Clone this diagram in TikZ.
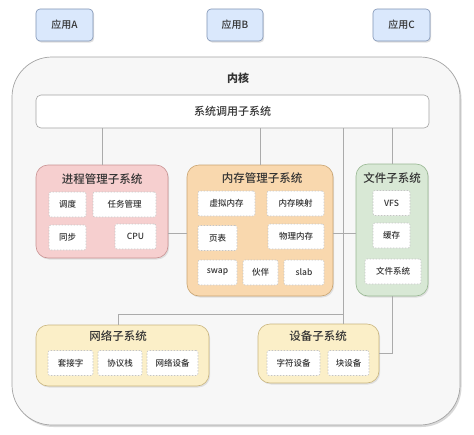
\documentclass[tikz,border=0pt]{standalone}
\usepackage{fontspec}
\setmainfont{Noto Sans CJK SC}
\newfontfamily\medfont{Noto Sans CJK SC Medium}
\usepackage{tikz}
\usetikzlibrary{calc}
\usetikzlibrary{shadows}

\definecolor{appfill}{HTML}{DAE8FC}
\definecolor{appline}{HTML}{7F93B5}
\definecolor{kernfill}{HTML}{F7F7F7}
\definecolor{kernline}{HTML}{A3A3A3}
\definecolor{procfill}{HTML}{F6CFCF}
\definecolor{procline}{HTML}{C99393}
\definecolor{memfill}{HTML}{F9D8AE}
\definecolor{memline}{HTML}{C9A470}
\definecolor{filefill}{HTML}{D8E8D5}
\definecolor{fileline}{HTML}{97B791}
\definecolor{devfill}{HTML}{FBEFC8}
\definecolor{devline}{HTML}{C9B57E}
\definecolor{itemline}{HTML}{C4C4C4}
\definecolor{linkgray}{HTML}{ABABAB}
\definecolor{txt}{HTML}{333333}

\tikzset{
  app/.style={draw=appline, fill=appfill, rounded corners=4pt, line width=0.6pt,
    inner sep=0pt, minimum height=32pt, text=txt, font=\medfont\fontsize{10}{12}\selectfont,
    drop shadow={opacity=0.25, shadow xshift=1.2pt, shadow yshift=-1.5pt}},
  grp/.style={rounded corners=12pt, line width=0.6pt, inner sep=0pt,
    drop shadow={opacity=0.2, shadow xshift=1.2pt, shadow yshift=-1.5pt}},
  itembox/.style={draw=itemline, fill=white, dash pattern=on 1.5pt off 1.5pt,
    rounded corners=2pt, line width=0.6pt, inner sep=0pt, minimum height=25pt,
    text=txt, font=\medfont\fontsize{8.5}{10}\selectfont},
  grptitle/.style={text=txt, font=\medfont\fontsize{11.5}{13}\selectfont},
  link/.style={draw=linkgray, line width=0.6pt}
}

\begin{document}
\begin{tikzpicture}[x=1pt, y=-1pt]
\fill[white] (0,0) rectangle (474,434);
\useasboundingbox (0,0) rectangle (474,434);

\node[app, minimum width=57pt] (appA) at (64.5,25) {应用A};
\node[app, minimum width=56pt] (appB) at (235,25) {应用B};
\node[app, minimum width=57pt] (appC) at (401.5,25) {应用C};

\node[draw=kernline, fill=kernfill, rounded corners=40pt, line width=0.7pt, inner sep=0pt,
  minimum width=448pt, minimum height=368pt,
  drop shadow={opacity=0.3, shadow xshift=1.5pt, shadow yshift=-2pt}] (kern) at (236,241) {};
\node[text=txt, font=\fontsize{11}{13}\selectfont\bfseries] (kernt) at (238,78) {内核};

\node[draw=kernline, fill=white, rounded corners=5pt, line width=0.6pt, inner sep=0pt,
  minimum width=393pt, minimum height=33pt, text=txt, font=\medfont\fontsize{11}{13}\selectfont] (sys) at (232.5,111.5) {系统调用子系统};

\node[grp, draw=procline, fill=procfill, minimum width=132pt, minimum height=93pt] (proc) at (102,211.5) {};
\node[grp, draw=memline, fill=memfill, minimum width=146pt, minimum height=131pt] (mem) at (260,230.5) {};
\node[grp, draw=fileline, fill=filefill, minimum width=72pt, minimum height=132pt] (file) at (392,230) {};
\node[grp, draw=devline, fill=devfill, minimum width=173pt, minimum height=61pt] (net) at (122.5,355.5) {};
\node[grp, draw=devline, fill=devfill, minimum width=121pt, minimum height=59pt] (dev) at (318.5,353.5) {};

\node[grptitle] (proct) at (102,179) {进程管理子系统};
\node[grptitle] (memt) at (262,178) {内存管理子系统};
\node[grptitle] (filet) at (392,178) {文件子系统};
\node[grptitle] (nett) at (118,336) {网络子系统};
\node[grptitle] (devt) at (318,336) {设备子系统};

\foreach \n/\x/\y/\w/\t in {
  sched/67.5/204.5/37/调度, task/124.5/204.5/63/任务管理,
  sync/67.5/237.5/37/同步, cpu/135.5/236.5/41/CPU,
  vmem/226.5/203.5/57/虚拟内存, mmap/295.5/203.5/57/内存映射,
  ptab/217.5/238/39/页表, pmem/296/236.5/56/物理内存,
  swap/217.5/272.5/39/swap, buddy/260.5/272.5/35/伙伴, slab/304/272.5/40/slab,
  vfs/391.5/203/37/VFS, cache/391.5/235.5/37/缓存, fs/393/271.5/56/文件系统,
  sock/70.5/363/45/套接字, stack/120/363/44/协议栈, ndev/172.5/363/51/网络设备,
  cdev/293.5/363/53/字符设备, bdev/348.5/363/41/块设备}
  \node[itembox, minimum width=\w pt] (\n) at (\x,\y) {\t};

\coordinate (jn) at (118,314);
\coordinate (jd) at (343,314);
\coordinate (hm) at (177,233);

\draw[link] (sys.south -| proc.north) -- (proc.north);
\draw[link] (sys.south -| mem.north) -- (mem.north);
\draw[link] (sys.south -| file.north) -- (file.north);
\draw[link] (sys.south -| jd) -- (jd |- dev.north);
\draw[link] (jn |- net.north) -- (jn) -- (jd);
\draw[link] (hm -| proc.east) -- (hm -| mem.west);
\draw[link] (hm -| mem.east) -- (hm -| file.west);
\draw[link] (file.south) |- (dev.east);

\end{tikzpicture}
\end{document}
